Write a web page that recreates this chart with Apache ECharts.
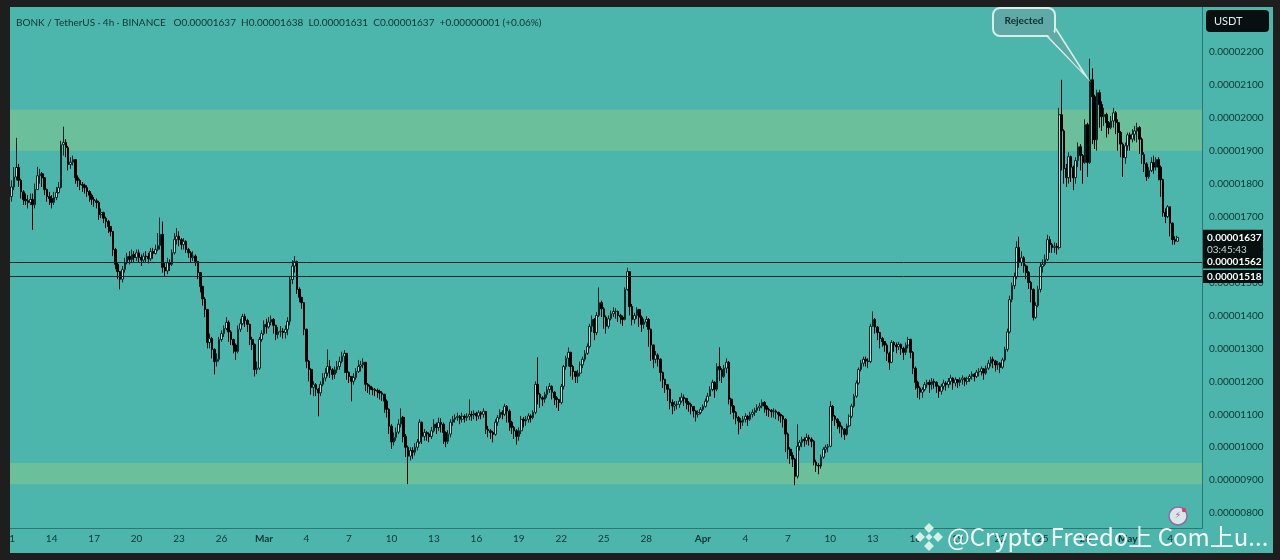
<!DOCTYPE html>
<html><head><meta charset="utf-8">
<script src="https://cdn.jsdelivr.net/npm/echarts@6/dist/echarts.min.js"></script>
<style>html,body{margin:0;padding:0;background:#1e1e1e}#c{width:1280px;height:560px;filter:blur(0.3px)}</style>
</head><body><div id="c"></div>
<script>
// prices are in units of 0.00000001 USDT, one entry per 4h candle from 11 Feb
const closes = [
1761,1790,1820,1849,1810,1775,1752,1748,1743,1752,1736,1782,
1824,1830,1818,1782,1761,1755,1743,1758,1773,1788,1918,1925,
1909,1858,1865,1873,1818,1810,1797,1795,1788,1776,1765,1752,
1748,1743,1706,1712,1695,1685,1670,1655,1600,1555,1533,1510,
1539,1560,1579,1570,1585,1576,1590,1576,1568,1580,1579,1572,
1594,1588,1600,1612,1646,1546,1535,1560,1555,1590,1630,1640,
1630,1615,1625,1600,1590,1576,1580,1564,1530,1488,1450,1418,
1318,1330,1297,1260,1267,1327,1345,1360,1379,1350,1327,1310,
1291,1358,1375,1397,1385,1373,1327,1312,1236,1240,1327,1345,
1373,1365,1380,1388,1370,1342,1350,1352,1348,1358,1382,1509,
1550,1564,1479,1455,1439,1358,1261,1236,1182,1190,1176,1165,
1191,1210,1225,1245,1235,1221,1235,1245,1260,1276,1285,1227,
1215,1200,1212,1230,1245,1250,1258,1191,1185,1176,1175,1172,
1170,1165,1161,1140,1115,1064,1016,1030,1046,1070,1091,1033,
1000,973,990,985,1000,1016,1076,1033,1045,1040,1033,1050,
1070,1060,1075,1070,1045,1018,1040,1076,1085,1090,1094,1085,
1094,1090,1094,1100,1098,1103,1095,1105,1100,1109,1055,1050,
1045,1039,1076,1090,1106,1100,1124,1110,1076,1060,1050,1033,
1050,1085,1080,1085,1095,1090,1106,1191,1161,1150,1146,1160,
1175,1185,1167,1150,1145,1136,1185,1245,1270,1288,1245,1230,
1215,1225,1250,1267,1285,1306,1367,1388,1348,1400,1439,1420,
1395,1367,1390,1405,1412,1412,1400,1395,1388,1479,1533,1427,
1388,1400,1418,1395,1373,1380,1388,1358,1310,1267,1280,1267,
1227,1206,1190,1176,1136,1125,1130,1130,1140,1152,1148,1135,
1130,1124,1110,1100,1105,1115,1124,1140,1155,1175,1197,1176,
1245,1235,1215,1240,1258,1146,1125,1106,1090,1080,1076,1085,
1094,1085,1100,1106,1112,1120,1125,1136,1125,1115,1112,1108,
1110,1106,1100,1095,1085,1040,994,975,964,912,1003,1015,
1024,1020,1030,1025,1018,955,945,943,970,994,1000,1003,
1124,1094,1085,1075,1062,1055,1039,1065,1094,1125,1155,1195,
1236,1255,1267,1262,1260,1367,1388,1365,1348,1330,1321,1310,
1285,1258,1318,1310,1305,1312,1300,1288,1310,1327,1288,1240,
1197,1180,1167,1175,1190,1197,1190,1200,1197,1185,1170,1185,
1195,1190,1200,1210,1195,1205,1197,1205,1210,1200,1208,1215,
1222,1215,1228,1230,1238,1225,1240,1255,1267,1262,1250,1255,
1243,1265,1297,1350,1448,1490,1518,1606,1561,1575,1550,1530,
1500,1479,1394,1430,1479,1548,1555,1570,1630,1615,1606,1610,
1606,2009,1960,1846,1818,1882,1850,1818,1870,1912,1885,1864,
1979,1864,2115,2064,1933,2076,2040,2003,2010,1985,1970,1990,
2015,1985,1955,1920,1879,1915,1948,1935,1950,1960,1970,1935,
1888,1860,1821,1840,1864,1850,1873,1850,1812,1712,1700,1730,
1680,1630,1625,1637];
const highs = [
1790,1810,1850,1939,1860,1815,1780,1770,1765,1770,1770,1800,
1851,1845,1835,1815,1785,1775,1765,1775,1790,1805,1930,1973,
1935,1915,1880,1885,1875,1825,1815,1805,1800,1795,1780,1770,
1760,1755,1748,1725,1715,1700,1690,1670,1655,1605,1560,1535,
1550,1575,1590,1595,1600,1595,1600,1600,1585,1590,1595,1590,
1605,1605,1615,1650,1697,1685,1560,1575,1570,1600,1650,1665,
1655,1635,1635,1628,1605,1595,1595,1585,1565,1530,1490,1455,
1420,1345,1335,1300,1285,1335,1355,1370,1395,1385,1355,1330,
1315,1370,1390,1405,1405,1390,1375,1335,1315,1260,1335,1355,
1385,1390,1395,1400,1392,1372,1365,1368,1362,1370,1395,1520,
1568,1580,1566,1485,1455,1440,1360,1265,1240,1200,1195,1180,
1200,1225,1240,1297,1265,1240,1245,1262,1275,1290,1295,1285,
1230,1215,1225,1240,1265,1262,1270,1255,1195,1190,1182,1180,
1178,1175,1170,1162,1145,1118,1070,1045,1060,1085,1118,1095,
1040,1005,1000,1000,1012,1025,1085,1078,1055,1050,1045,1062,
1085,1075,1090,1088,1075,1048,1052,1085,1095,1100,1105,1098,
1105,1100,1103,1145,1110,1112,1108,1112,1110,1118,1110,1065,
1055,1050,1085,1098,1115,1112,1132,1128,1115,1080,1065,1055,
1060,1095,1092,1095,1103,1100,1112,1200,1273,1165,1155,1168,
1185,1195,1188,1170,1155,1146,1192,1250,1278,1303,1290,1250,
1232,1235,1260,1275,1295,1315,1375,1400,1392,1410,1485,1445,
1425,1400,1400,1415,1425,1422,1415,1405,1400,1485,1545,1535,
1435,1408,1425,1420,1400,1390,1398,1392,1360,1312,1292,1285,
1270,1230,1208,1192,1178,1145,1140,1140,1152,1165,1160,1150,
1140,1135,1125,1112,1112,1122,1130,1148,1165,1185,1205,1200,
1255,1303,1240,1250,1270,1262,1150,1128,1110,1095,1088,1095,
1103,1098,1108,1115,1120,1130,1135,1145,1140,1128,1120,1116,
1118,1115,1108,1102,1098,1088,1045,1000,985,968,1070,1022,
1032,1030,1042,1038,1030,1022,962,952,978,1000,1008,1010,
1140,1128,1098,1088,1080,1066,1058,1072,1100,1132,1162,1203,
1242,1265,1275,1275,1270,1375,1412,1392,1368,1350,1335,1322,
1315,1290,1325,1322,1318,1320,1315,1305,1318,1335,1330,1292,
1245,1202,1185,1182,1198,1205,1205,1210,1208,1200,1188,1192,
1205,1200,1210,1220,1212,1212,1207,1212,1218,1212,1214,1222,
1230,1225,1235,1240,1245,1240,1248,1265,1275,1275,1265,1262,
1258,1272,1305,1360,1460,1500,1530,1625,1639,1595,1580,1555,
1535,1505,1482,1440,1490,1560,1570,1585,1645,1640,1620,1622,
1620,2030,2115,1965,1860,1895,1885,1855,1880,1925,1920,1890,
1995,1985,2179,2150,2070,2085,2085,2050,2030,2015,1990,2005,
2030,2020,1995,1960,1925,1925,1955,1955,1965,1975,1985,1975,
1940,1895,1865,1850,1880,1885,1880,1880,1855,1815,1725,1735,
1728,1682,1640,1642];
const lows = [
1745,1745,1780,1810,1790,1755,1735,1735,1725,1735,1660,1725,
1785,1800,1790,1765,1745,1735,1725,1735,1750,1770,1785,1885,
1880,1840,1845,1855,1800,1790,1780,1775,1770,1760,1745,1735,
1730,1725,1690,1695,1680,1665,1650,1640,1580,1540,1510,1479,
1500,1530,1555,1555,1560,1560,1565,1560,1550,1560,1560,1558,
1565,1572,1585,1595,1600,1530,1520,1525,1535,1550,1585,1615,
1610,1600,1600,1590,1575,1560,1565,1550,1510,1470,1430,1395,
1300,1300,1270,1221,1245,1260,1320,1335,1355,1320,1310,1285,
1265,1285,1350,1370,1365,1350,1310,1295,1215,1222,1235,1320,
1340,1345,1360,1370,1345,1325,1330,1335,1330,1330,1340,1370,
1495,1530,1465,1440,1420,1340,1240,1200,1160,1155,1155,1094,
1155,1185,1200,1215,1210,1205,1208,1225,1235,1255,1225,1205,
1195,1139,1190,1205,1225,1230,1240,1170,1165,1160,1158,1155,
1150,1145,1140,1105,1090,1040,995,1005,1020,1040,1060,1015,
970,888,960,965,975,990,1010,1010,1020,1020,1015,1025,
1045,1040,1050,1045,1010,1000,1010,1030,1065,1075,1080,1070,
1075,1075,1080,1082,1080,1085,1080,1085,1085,1090,1040,1030,
1025,1015,1035,1065,1085,1085,1095,1075,1050,1040,1025,1008,
1020,1040,1060,1065,1075,1075,1085,1100,1130,1120,1125,1135,
1150,1165,1145,1128,1120,1110,1130,1175,1235,1245,1215,1205,
1195,1195,1215,1240,1260,1280,1300,1350,1325,1340,1395,1395,
1360,1345,1360,1385,1395,1390,1380,1375,1368,1385,1475,1400,
1370,1375,1390,1365,1350,1360,1365,1305,1262,1240,1255,1245,
1200,1180,1165,1140,1115,1100,1110,1115,1120,1135,1125,1115,
1108,1100,1090,1078,1090,1100,1110,1120,1135,1155,1170,1150,
1170,1200,1195,1210,1225,1130,1100,1085,1070,1039,1055,1065,
1075,1065,1080,1090,1095,1105,1110,1118,1105,1095,1092,1090,
1090,1085,1080,1075,1060,985,965,950,940,885,905,990,
1000,1002,1008,1005,1000,945,925,918,935,965,982,985,
1000,1080,1065,1055,1042,1030,1022,1035,1060,1088,1120,1150,
1190,1230,1245,1245,1240,1255,1365,1345,1325,1300,1305,1290,
1262,1235,1255,1290,1285,1295,1280,1265,1280,1300,1270,1222,
1175,1150,1145,1150,1170,1180,1165,1175,1178,1165,1150,1160,
1175,1172,1180,1190,1175,1185,1180,1185,1190,1185,1190,1198,
1205,1200,1210,1215,1218,1205,1220,1235,1245,1240,1230,1235,
1225,1238,1260,1290,1345,1440,1480,1510,1545,1550,1530,1510,
1480,1440,1385,1390,1425,1470,1530,1550,1565,1590,1590,1590,
1585,1600,1840,1800,1790,1800,1805,1780,1800,1850,1840,1800,
1860,1820,1860,1920,1905,1900,1970,1960,1975,1940,1950,1965,
1970,1950,1900,1880,1820,1860,1900,1900,1925,1930,1925,1890,
1860,1835,1808,1815,1835,1830,1840,1810,1760,1700,1680,1695,
1640,1615,1615,1625];
const firstOpen = 1750;
const tickDays = ['02-11','02-14','02-17','02-20','02-23','02-26','03-01','03-04','03-07','03-10','03-13','03-16','03-19','03-22','03-25','03-28','04-01','04-04','04-07','04-10','04-13','04-16','04-19','04-22','04-25','04-28','05-01','05-04'];
const tickLabels = ['11','14','17','20','23','26','Mar','4','7','10','13','16','19','22','25','28','Apr','4','7','10','13','16','19','22','25','28','May','4'];
const priceTicks = [800,900,1000,1100,1200,1300,1400,1500,1600,1700,1800,1900,2000,2100,2200];
const zones = [[2024,1900],[952,888]];
const levels = [1562,1518];
const lastPrice = 1637;
const countdown = '03:45:43';
const headerText = 'BONK / TetherUS · 4h · BINANCE   O0.00001637  H0.00001638  L0.00001631  C0.00001637  +0.00000001 (+0.06%)';
const calloutText = 'Rejected';
const watermarkText = '@Crypto Freedo上 Com上u...';
const SLOTS = 506;

const pad = n => String(n).padStart(2,'0');
const categories = [];
for (let i=0;i<SLOTS;i++){
  const d = new Date(Date.UTC(2025,1,11,i*4));
  categories.push(pad(d.getUTCMonth()+1)+'-'+pad(d.getUTCDate())+' '+pad(d.getUTCHours()));
}
const tickMap = {};
tickDays.forEach((d,i)=>{tickMap[d+' 00']=tickLabels[i];});
const candles = closes.map((c,i)=>{
  const o = i===0?firstOpen:closes[i-1];
  return [o,c,Math.min(lows[i],o,c),Math.max(highs[i],o,c)];
});
const fmt = v => (v/1e8).toFixed(8);
const ink = '#0e3635';
const font = 'Lato, "Open Sans", sans-serif';
const tag = (text) => ({show:true,position:'end',distance:1,formatter:text,color:'#fff',backgroundColor:'#06100f',fontFamily:font,fontSize:10,fontWeight:'bold',padding:[2,4,1,4],width:52,align:'left'});

const chart = echarts.init(document.getElementById('c'),null,{renderer:'canvas'});
chart.setOption({
  animation:false,
  backgroundColor:'#4db6ac',
  title:{text:headerText,left:11,top:13,textStyle:{color:ink,fontSize:10,fontWeight:'normal',fontFamily:font}},
  grid:{left:8,right:78,top:7,bottom:32,containLabel:false},
  xAxis:{type:'category',data:categories,boundaryGap:true,
    axisLine:{lineStyle:{color:'#2f7571',width:1}},axisTick:{show:false},splitLine:{show:false},
    axisLabel:{interval:(i,v)=>tickMap[v]!==undefined,margin:6,color:ink,fontSize:10,fontFamily:font,
      formatter:v=>{const t=tickMap[v];return t===undefined?'':(/[A-Za-z]/.test(t)?'{b|'+t+'}':t);},
      rich:{b:{fontWeight:'bold',color:ink,fontSize:10,fontFamily:font}}}},
  yAxis:{type:'value',position:'right',min:755,max:2336,scale:true,
    axisLine:{show:true,lineStyle:{color:'#2f7571',width:1}},axisTick:{show:false},splitLine:{show:false},
    axisLabel:{customValues:priceTicks,formatter:fmt,margin:7,color:ink,fontSize:10,fontFamily:font}},
  series:[{type:'candlestick',data:candles,barWidth:2.1,clip:true,
    itemStyle:{color:'#bcdcd6',color0:'#000000',borderColor:'#0c2625',borderColor0:'#000000',borderWidth:1},
    markArea:{silent:true,itemStyle:{color:'#6bbf9b'},data:zones.map(z=>[{yAxis:z[0]},{yAxis:z[1]}])},
    markLine:{silent:true,symbol:'none',animation:false,lineStyle:{color:'#0f2b2a',width:1,type:'solid'},
      data:[
        ...levels.map(v=>({yAxis:v,label:tag(fmt(v))})),
        {yAxis:lastPrice,lineStyle:{color:'rgba(0,0,0,0)',width:0},label:Object.assign(tag(fmt(lastPrice)+'\n{t|'+countdown+'}'),{offset:[0,6],lineHeight:12,rich:{t:{color:'#cfd8d6',fontSize:10,fontFamily:font,fontWeight:'normal',lineHeight:12}}})}
      ]}
  }],
  graphic:[
    {type:'rect',z:50,shape:{x:0,y:0,width:1280,height:7},style:{fill:'#1e1e1e'}},
    {type:'rect',z:50,shape:{x:0,y:553,width:1280,height:7},style:{fill:'#1e1e1e'}},
    {type:'rect',z:50,shape:{x:0,y:0,width:10,height:560},style:{fill:'#1e1e1e'}},
    {type:'rect',z:50,shape:{x:1273,y:0,width:7,height:560},style:{fill:'#1e1e1e'}},
    {type:'rect',z:40,shape:{x:1206,y:10,width:63,height:22,r:4},style:{fill:'#07100f'}},
    {type:'text',z:41,x:1214,y:21,style:{text:'USDT',fill:'#dfeeea',font:'11px '+font,verticalAlign:'middle'}},
    {type:'polygon',z:30,shape:{points:[[1046,35],[1086,76],[1056,29],[1050,20]]},style:{fill:'#5fa9a6',stroke:'#d5efe9',lineWidth:1.6}},
    {type:'rect',z:31,shape:{x:993,y:8,width:62,height:28,r:7},style:{fill:'#5fa9a6',stroke:'#d5efe9',lineWidth:2}},
    {type:'polygon',z:32,shape:{points:[[1047,34],[1082,72],[1053,31],[1053,26]]},style:{fill:'#5fa9a6'}},
    {type:'text',z:33,x:1024,y:21,style:{text:calloutText,fill:'#0d2e2d',font:'bold 10px '+font,align:'center',verticalAlign:'middle'}},
    {type:'text',z:45,x:947,y:537,style:{text:watermarkText,fill:'#ffffff',opacity:0.95,font:'24px "Noto Sans CJK SC", "Noto Sans", sans-serif',verticalAlign:'middle'}},
    {type:'rect',z:45,x:929,y:528,rotation:Math.PI/4,shape:{x:-3.5,y:-3.5,width:7,height:7},style:{fill:'#d5efe9'}},
    {type:'rect',z:45,x:920,y:537,rotation:Math.PI/4,shape:{x:-3.5,y:-3.5,width:7,height:7},style:{fill:'#d5efe9'}},
    {type:'rect',z:45,x:938,y:537,rotation:Math.PI/4,shape:{x:-3.5,y:-3.5,width:7,height:7},style:{fill:'#d5efe9'}},
    {type:'rect',z:45,x:929,y:546,rotation:Math.PI/4,shape:{x:-3.5,y:-3.5,width:7,height:7},style:{fill:'#d5efe9'}},
    {type:'rect',z:45,x:929,y:537,rotation:Math.PI/4,shape:{x:-2.5,y:-2.5,width:5,height:5},style:{fill:'#d5efe9'}},
    {type:'circle',z:44,shape:{cx:1178,cy:516,r:9},style:{fill:'#d9e7e6',stroke:'#8f6ba8',lineWidth:1.5}},
    {type:'text',z:45,x:1178,y:516,style:{text:'⚡',fill:'#a0509a',font:'9px "DejaVu Sans"',align:'center',verticalAlign:'middle'}},
    {type:'circle',z:45,shape:{cx:1184,cy:510,r:2.2},style:{fill:'#d8406a'}}
  ]
});
</script></body></html>
